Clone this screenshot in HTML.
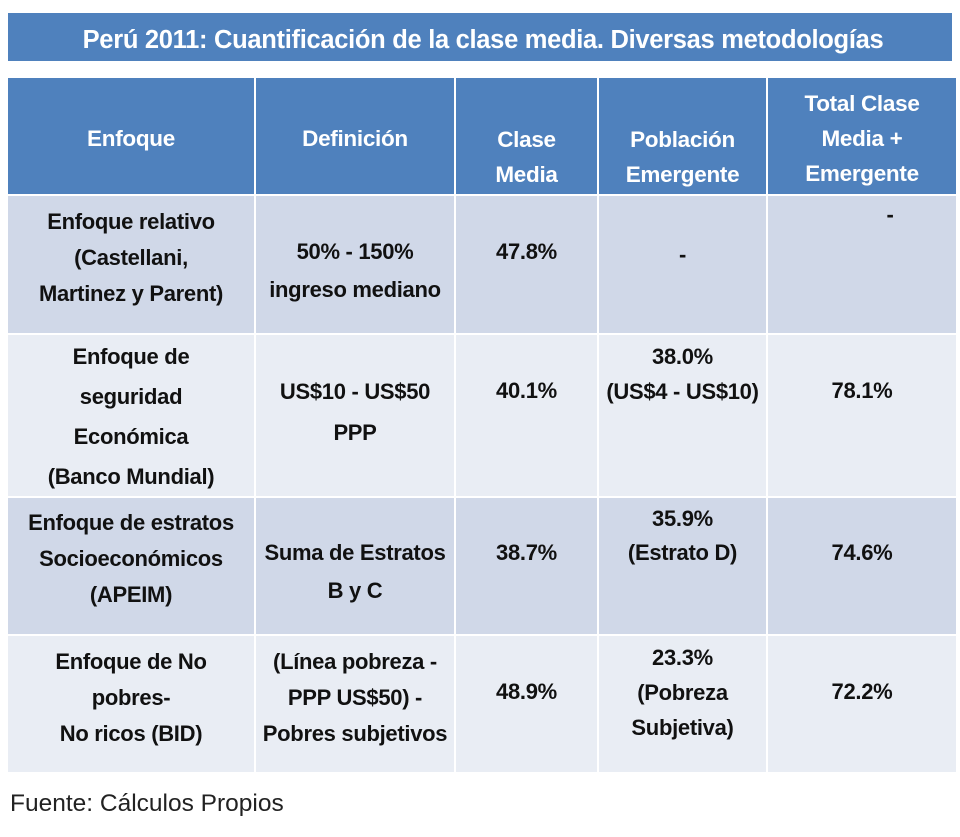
<!DOCTYPE html>
<html><head><meta charset="utf-8">
<style>
html,body{margin:0;padding:0;background:#fff;}
body{width:960px;height:837px;position:relative;overflow:hidden;font-family:"Liberation Sans",sans-serif;}
.bg{position:absolute;}
.t{position:absolute;text-align:center;font-weight:bold;font-size:22px;color:#111;white-space:nowrap;transform:translateX(-50%);letter-spacing:-0.3px;}
.h{color:#fff;font-size:22.5px;}
</style></head><body>
<div class="bg" style="left:8px;top:13px;width:944px;height:48px;background:#4f81bd;"></div>
<div class="t h" style="left:483px;top:24px;line-height:32px;font-size:25.5px;">Perú 2011: Cuantificación de la clase media. Diversas metodologías</div>
<div id="tbl"></div>
<div style="position:absolute;left:10px;top:790px;font-size:24.5px;color:#222;">Fuente: Cálculos Propios</div>
<script>
const cols=[8,256,456,599,768,958];
const rows=[78,196,335,498,636,774];
const fills=['#4f81bd','#d0d8e8','#e9edf4','#d0d8e8','#e9edf4'];
// [row, col, firstCenterY, lineHeight, lines, optional x override]
const cells=[
[0,0,139,36,['Enfoque']],[0,1,139,36,['Definición']],[0,2,139,35,['Clase','Media']],[0,3,139,35,['Población','Emergente']],[0,4,103,35,['Total Clase','Media +','Emergente']],
[1,0,222,36,['Enfoque relativo','(Castellani,','Martinez y Parent)']],[1,1,252,38,['50% - 150%','ingreso mediano']],[1,2,252,36,['47.8%']],[1,3,255,36,['-']],[1,4,215,36,['-'],890],
[2,0,357,40,['Enfoque de','seguridad','Económica','(Banco Mundial)']],[2,1,391,41,['US$10 - US$50','PPP']],[2,2,391,36,['40.1%']],[2,3,356,35,['38.0%','(US$4 - US$10)']],[2,4,391,36,['78.1%']],
[3,0,523,36,['Enfoque de estratos','Socioeconómicos','(APEIM)']],[3,1,553,38,['Suma de Estratos','B y C']],[3,2,553,36,['38.7%']],[3,3,519,34,['35.9%','(Estrato D)']],[3,4,553,36,['74.6%']],
[4,0,662,36,['Enfoque de No','pobres-','No ricos (BID)']],[4,1,662,36,['(Línea pobreza -','PPP US$50) -','Pobres subjetivos']],[4,2,692,36,['48.9%']],[4,3,657,35,['23.3%','(Pobreza','Subjetiva)']],[4,4,692,36,['72.2%']]
];
const tbl=document.getElementById('tbl');
for(let r=0;r<5;r++)for(let c=0;c<5;c++){
 const d=document.createElement('div');
 d.className='bg';
 
 
 d.style.cssText=`left:${cols[c]}px;top:${rows[r]}px;width:${cols[c+1]-cols[c]-2}px;height:${rows[r+1]-rows[r]-2}px;background:${fills[r]}`;
 tbl.appendChild(d);
}
cells.forEach(([r,c,y,lh,lines,x])=>{
 const d=document.createElement('div');
 d.className='t'+(r===0?' h':'');
 
 
 const cx=x||(cols[c]+cols[c+1]-2)/2;
 d.style.left=cx+'px';d.style.top=(y-lh/2)+'px';d.style.lineHeight=lh+'px';
 d.innerHTML=lines.join('<br>');
 tbl.appendChild(d);
});
</script>
</body></html>
